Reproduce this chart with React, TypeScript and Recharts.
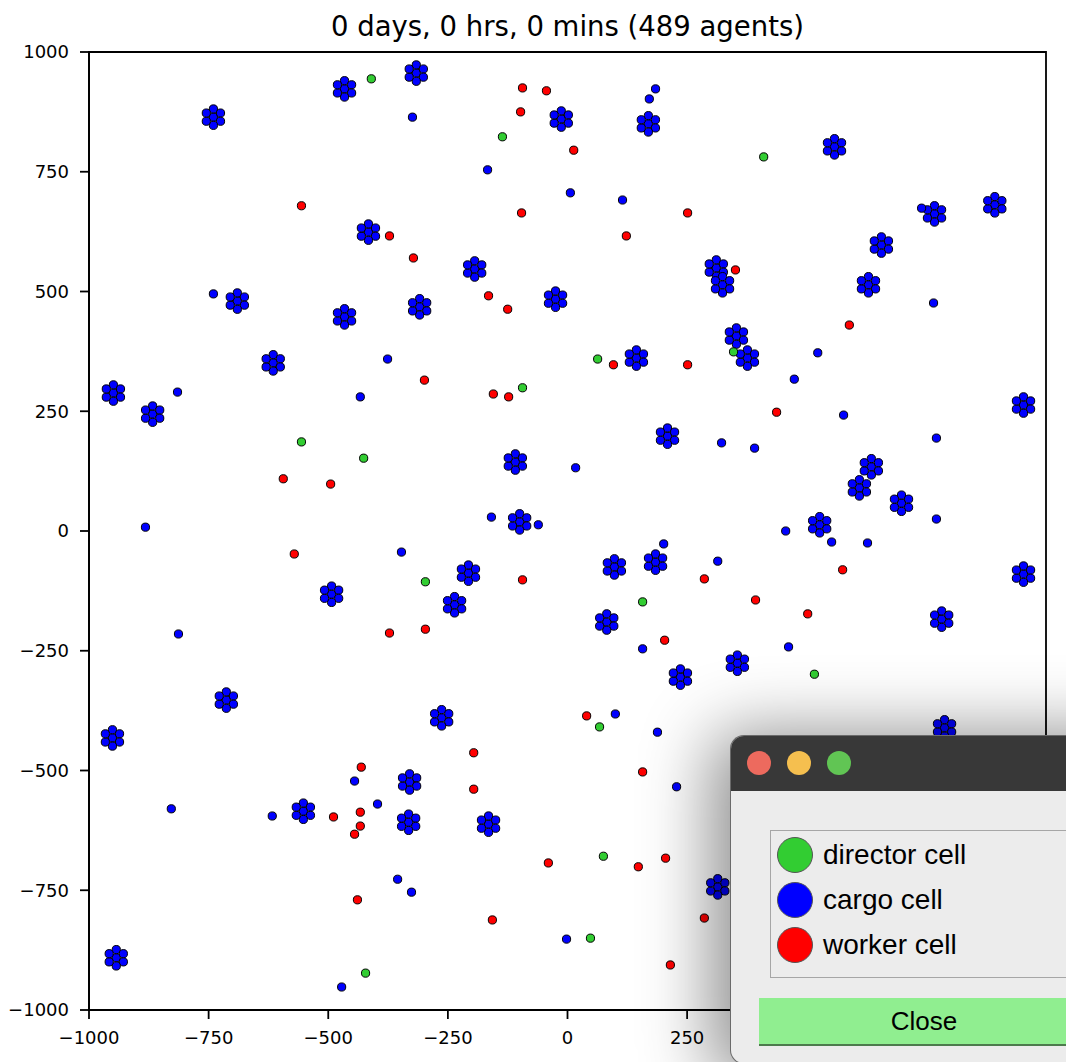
import React from "react";
import { ScatterChart, Scatter, XAxis, YAxis, ReferenceArea } from "recharts";

const TITLE = "0 days, 0 hrs, 0 mins (489 agents)";
const TICKS = [-1000, -750, -500, -250, 0, 250, 500, 750, 1000];

// centres of the 7-cell cargo clumps
const cargoClumps: [number, number][] = [
  [-740, 864], [-466, 923], [-316, 956], [-13, 860], [169, 850], [558, 802],
  [767, 662], [893, 681], [-416, 624], [-194, 547], [-690, 480], [-466, 447],
  [-309, 468], [-25, 484], [311, 549], [324, 514], [656, 597], [629, 514],
  [353, 407], [376, 361], [144, 361], [-949, 288], [-867, 244], [-615, 351],
  [-109, 144], [209, 198], [953, 263], [635, 134], [610, 90], [698, 58],
  [527, 13], [-100, 19], [-493, -132], [-207, -88], [-236, -154], [98, -75],
  [184, -65], [953, -90], [82, -190], [782, -184], [236, -305], [355, -276],
  [-713, -353], [-263, -390], [-951, -432], [-330, -524], [-552, -585],
  [-332, -608], [-165, -612], [-943, -891], [314, -743], [788, -411],
];

// lone cargo cells
const cargoCells: [number, number][] = [
  [-324, 864], [184, 923], [171, 902], [-167, 754], [6, 706], [115, 691],
  [740, 674], [-740, 495], [765, 476], [523, 372], [-376, 359], [474, 317],
  [-815, 290], [-433, 280], [577, 242], [771, 194], [322, 184], [391, 173],
  [17, 132], [-159, 29], [771, 25], [-882, 8], [-61, 13], [456, 0],
  [552, -23], [627, -25], [201, -27], [-347, -44], [314, -63], [-813, -215],
  [157, -246], [462, -242], [100, -382], [188, -420], [-445, -522],
  [228, -534], [-397, -570], [-828, -580], [-617, -595], [-355, -727],
  [-326, -754], [-2, -852], [-472, -952],
];

const directorCells: [number, number][] = [
  [-410, 944], [-136, 823], [410, 781], [63, 359], [347, 374], [-94, 299],
  [-556, 186], [-426, 152], [-297, -106], [157, -148], [516, -299],
  [67, -409], [75, -679], [48, -850], [-422, -923],
];

const workerCells: [number, number][] = [
  [-94, 925], [-44, 919], [-98, 875], [13, 795], [-556, 679], [-96, 664],
  [251, 664], [123, 616], [-372, 616], [-322, 570], [351, 545], [-165, 491],
  [-125, 463], [589, 430], [96, 347], [251, 347], [-299, 315], [-155, 286],
  [-123, 280], [437, 248], [-594, 109], [-495, 98], [-571, -48], [-94, -102],
  [286, -100], [575, -81], [393, -144], [502, -173], [-372, -213],
  [-297, -205], [203, -228], [40, -386], [-196, -463], [-431, -493],
  [157, -503], [-196, -539], [-489, -597], [-433, -587], [-433, -616],
  [-445, -633], [-40, -693], [148, -701], [205, -683], [286, -808],
  [-439, -770], [-157, -812], [215, -906],
];

const legendItems = [
  { label: "director cell", color: "#32cd32" },
  { label: "cargo cell", color: "#0000ff" },
  { label: "worker cell", color: "#ff0000" },
];

const toPoints = (list: [number, number][]) => list.map(([x, y]) => ({ x, y }));

const R = 4.1;
const HEX = [
  [0, 0], [0, -8.2], [7.1, -4.1], [7.1, 4.1], [0, 8.2], [-7.1, 4.1], [-7.1, -4.1],
];

const dot = (fill: string) => (props: any) => (
  <circle cx={props.cx} cy={props.cy} r={R} fill={fill} stroke="#000" strokeWidth={1} />
);

const clump = (props: any) => (
  <g>
    {HEX.map(([dx, dy], i) => (
      <circle key={i} cx={props.cx + dx} cy={props.cy + dy} r={R} fill="#0000ff" stroke="#000" strokeWidth={1} />
    ))}
  </g>
);

const fmt = (v: number) => String(v).replace("-", "\u2212");

const XTick = (props: any) => (
  <text x={props.x} y={props.y} dy="0.76em" textAnchor="middle" fontFamily="DejaVu Sans" fontSize={18} fill="#000">
    {fmt(props.payload.value)}
  </text>
);

const YTick = (props: any) => (
  <text x={props.x} y={props.y} dy="0.36em" textAnchor="end" fontFamily="DejaVu Sans" fontSize={18} fill="#000">
    {fmt(props.payload.value)}
  </text>
);

const Popup = () => (
  <div
    style={{
      position: "absolute",
      left: 730,
      top: 735,
      width: 420,
      height: 327,
      borderRadius: 14,
      overflow: "hidden",
      background: "#ececec",
      border: "1px solid rgba(0,0,0,0.55)",
      boxShadow: "-8px 8px 70px 10px rgba(0,0,0,0.45)",
      fontFamily: "'Liberation Sans', Arial, sans-serif",
    }}
  >
    <div style={{ height: 55, background: "#383838", position: "relative" }}>
      {["#ed6a5e", "#f5bf4f", "#61c554"].map((c, i) => (
        <div
          key={c}
          style={{
            position: "absolute",
            left: 16 + i * 40,
            top: 15,
            width: 24,
            height: 24,
            borderRadius: 12,
            background: c,
          }}
        />
      ))}
    </div>
    <div
      style={{
        position: "absolute",
        left: 39,
        top: 94,
        width: 340,
        height: 146,
        border: "1px solid #a6a6a6",
      }}
    >
      {legendItems.map((it, i) => (
        <div key={it.label} style={{ position: "absolute", left: 6, top: 6 + i * 45, height: 36, display: "flex", alignItems: "center" }}>
          <div
            style={{
              width: 34,
              height: 34,
              borderRadius: 18,
              background: it.color,
              border: "1px solid #555",
            }}
          />
          <span style={{ marginLeft: 10, fontSize: 28, color: "#000" }}>{it.label}</span>
        </div>
      ))}
    </div>
    <div
      style={{
        position: "absolute",
        left: 28,
        top: 262,
        width: 330,
        height: 46,
        background: "#90ee90",
        borderBottom: "2px solid #4d7a4d",
        display: "flex",
        alignItems: "center",
        justifyContent: "center",
        fontSize: 26,
        color: "#000",
      }}
    >
      Close
    </div>
  </div>
);

export default function App() {
  return (
    <div
      style={{
        position: "absolute",
        left: 0,
        top: 0,
        width: 1066,
        height: 1062,
        overflow: "hidden",
        background: "#fff",
      }}
    >
      <svg width={1066} height={50} style={{ position: "absolute", left: 0, top: 0 }}>
        <text x={567.5} y={36} textAnchor="middle" fontFamily="DejaVu Sans" fontSize={27.5} fill="#000">
          {TITLE}
        </text>
      </svg>
      <div style={{ position: "absolute", left: 0, top: 0 }}>
        <ScatterChart width={1066} height={1062} margin={{ top: 52, right: 20, bottom: 0, left: 0 }}>
          <XAxis
            type="number"
            dataKey="x"
            domain={[-1000, 1000]}
            ticks={TICKS}
            height={52}
            tickSize={9}
            tickMargin={11}
            axisLine={{ stroke: "#000", strokeWidth: 1.8 }}
            tickLine={{ stroke: "#000", strokeWidth: 1.8 }}
            tick={<XTick />}
            interval={0}
          />
          <YAxis
            type="number"
            dataKey="y"
            domain={[-1000, 1000]}
            ticks={TICKS}
            width={89}
            tickSize={9}
            tickMargin={11}
            axisLine={{ stroke: "#000", strokeWidth: 1.8 }}
            tickLine={{ stroke: "#000", strokeWidth: 1.8 }}
            tick={<YTick />}
            interval={0}
          />
          <ReferenceArea
            x1={-1000}
            x2={1000}
            y1={-1000}
            y2={1000}
            fill="none"
            stroke="#000"
            strokeWidth={1.8}
            ifOverflow="visible"
          />
          <Scatter data={toPoints(cargoClumps)} shape={clump} isAnimationActive={false} />
          <Scatter data={toPoints(cargoCells)} shape={dot("#0000ff")} isAnimationActive={false} />
          <Scatter data={toPoints(directorCells)} shape={dot("#32cd32")} isAnimationActive={false} />
          <Scatter data={toPoints(workerCells)} shape={dot("#ff0000")} isAnimationActive={false} />
        </ScatterChart>
      </div>
      <Popup />
    </div>
  );
}
